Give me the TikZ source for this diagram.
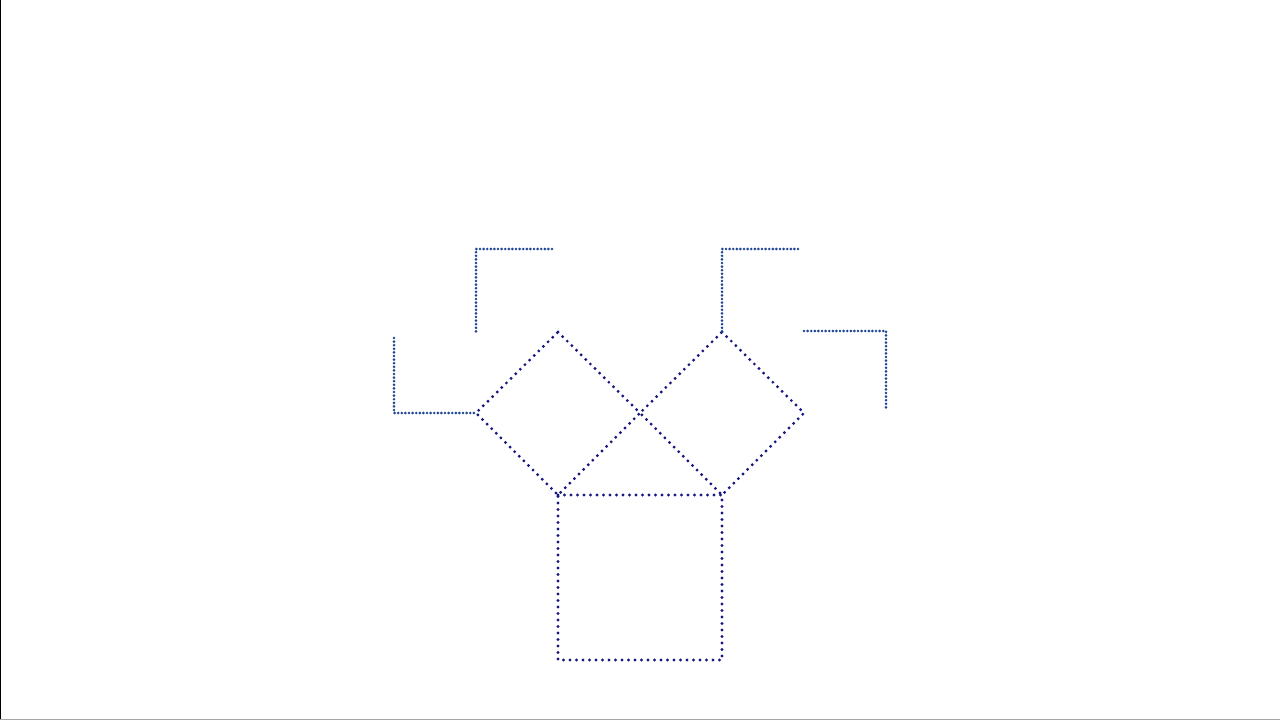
\documentclass[tikz,border=0pt]{standalone}
\begin{document}
\begin{tikzpicture}[x=1pt,y=-1pt,
  sqdots/.style={draw=sqcol,line width=3.2pt,line cap=round,dash pattern=on 0pt off 6.5pt},
  brdots/.style={draw=brcol,line width=2.9pt,line cap=round,dash pattern=on 0pt off 3.6pt}]
\definecolor{sqcol}{RGB}{24,24,128}
\definecolor{brcol}{RGB}{30,70,150}
\useasboundingbox (0,0) rectangle (1280,720);
\fill[white] (0,0) rectangle (1280,720);
\draw[black,line width=1.2pt] (0.6,0) -- (0.6,720);
\draw[black!35,line width=1.2pt] (0,719.4) -- (1280,719.4);
% coordinates
\coordinate (A) at (558,332);
\coordinate (L) at (476,413);
\coordinate (B) at (558,495);
\coordinate (C) at (640,413);
\coordinate (D) at (722,332);
\coordinate (R) at (804,413);
\coordinate (E) at (722,495);
\coordinate (F) at (722,660);
\coordinate (G) at (558,660);
% squares
\draw[sqdots] (A) -- (C) -- (B) -- (L) -- cycle;
\draw[sqdots] (D) -- (R) -- (E) -- (C) -- cycle;
\draw[sqdots] (B) -- (E) -- (F) -- (G) -- cycle;
% brackets
\draw[brdots] (552,249) -- (476,249) -- (476,332);
\draw[brdots] (394,338) -- (394,413) -- (L);
\draw[brdots] (798,249) -- (722,249) -- (D);
\draw[brdots] (804,331) -- (886,331) -- (886,408);
\end{tikzpicture}
\end{document}
